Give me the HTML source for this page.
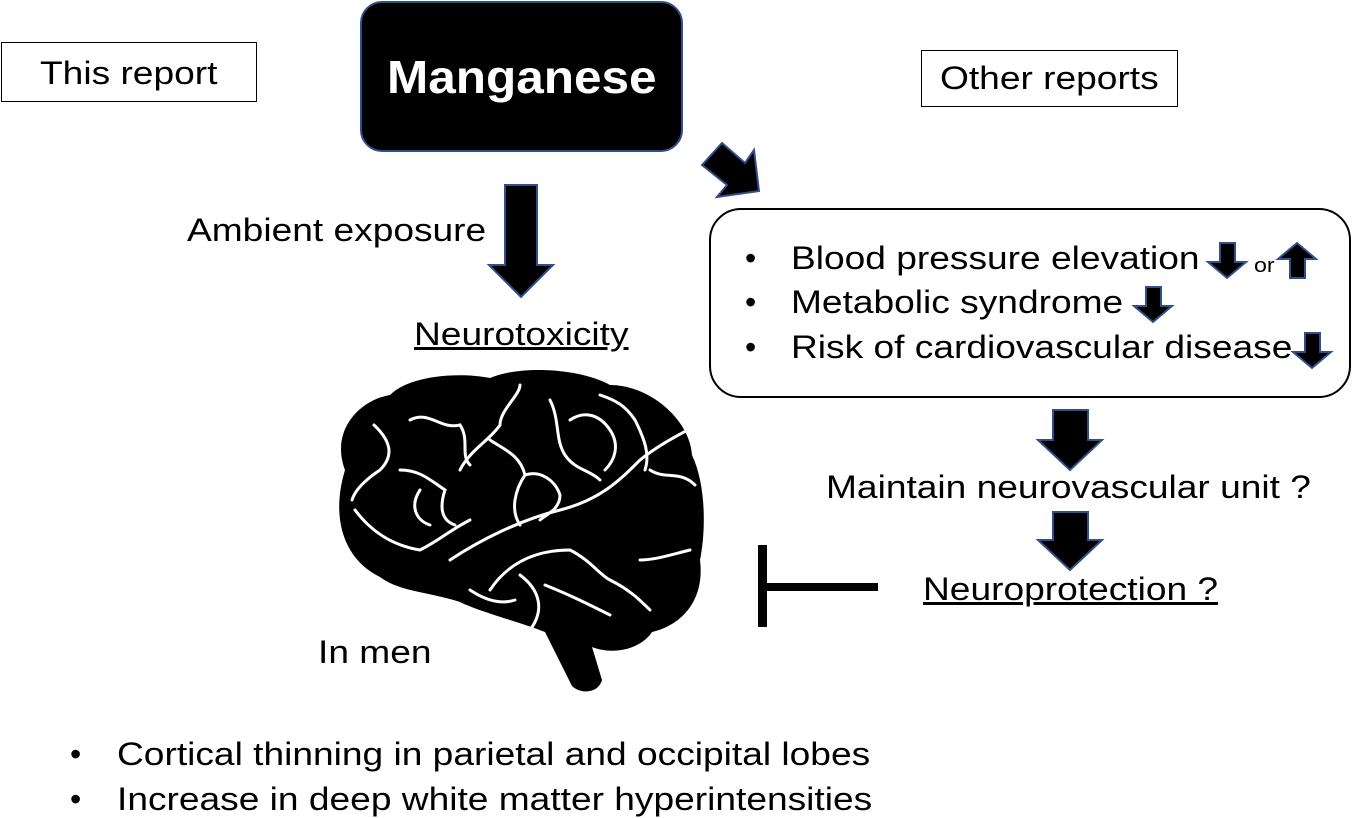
<!DOCTYPE html>
<html><head><meta charset="utf-8"><style>
html,body{margin:0;padding:0;background:#fff;}
body{width:1352px;height:818px;position:relative;overflow:hidden;font-family:"Liberation Sans",Arial,sans-serif;color:#000;}
.t{position:absolute;white-space:nowrap;font-size:32px;line-height:1;transform:scaleX(1.16);transform-origin:0 0;}
.box{position:absolute;box-sizing:border-box;}
</style></head><body>
<div class="box" style="left:1px;top:42px;width:256px;height:60px;border:1.5px solid #000;"></div>
<div class="t" style="left:40px;top:57px;">This report</div>
<div class="box" style="left:360px;top:1px;width:323px;height:151px;background:#000;border:2px solid #2f4f8f;border-radius:22px;"></div>
<div class="t" style="left:387px;top:54px;color:#fff;font-weight:bold;font-size:46px;transform:scaleX(1.076);">Manganese</div>
<div class="box" style="left:921px;top:50px;width:257px;height:57px;border:1.5px solid #000;"></div>
<div class="t" style="left:940px;top:62px;">Other reports</div>
<div class="box" style="left:709px;top:208px;width:642px;height:190px;border:2px solid #000;border-radius:32px;"></div>
<div class="t" style="left:745px;top:242px;transform:none;">•</div>
<div class="t" style="left:791px;top:242px;">Blood pressure elevation</div>
<div class="t" style="left:1254px;top:256px;font-size:20px;">or</div>
<div class="t" style="left:745px;top:286px;transform:none;">•</div>
<div class="t" style="left:791px;top:286px;">Metabolic syndrome</div>
<div class="t" style="left:745px;top:331px;transform:none;">•</div>
<div class="t" style="left:791px;top:331px;">Risk of cardiovascular disease</div>
<div class="t" style="left:187px;top:214px;">Ambient exposure</div>
<div class="t" style="left:414px;top:318px;text-decoration:underline;">Neurotoxicity</div>
<div class="t" style="left:826px;top:471px;">Maintain neurovascular unit ?</div>
<div class="t" style="left:923px;top:573px;text-decoration:underline;">Neuroprotection ?</div>
<div class="t" style="left:318px;top:636px;">In men</div>
<div class="t" style="left:70px;top:738px;transform:none;">•</div>
<div class="t" style="left:117px;top:738px;">Cortical thinning in parietal and occipital lobes</div>
<div class="t" style="left:70px;top:783px;transform:none;">•</div>
<div class="t" style="left:117px;top:783px;">Increase in deep white matter hyperintensities</div>
<svg width="1352" height="818" style="position:absolute;left:0;top:0;">
<g fill="#000" stroke="#2f4f8f" stroke-width="2">
<polygon points="505,185 537,185 537,265 553,265 521,297 489,265 505,265"/>
<polygon points="702,165 722,143 745,163 754,150 759,191 717,197 727,185"/>
<polygon points="1053,410 1088,410 1088,440 1102,440 1070,470 1038,440 1053,440"/>
<polygon points="1053,512 1088,512 1088,540 1102,540 1070,570 1038,540 1053,540"/>
<polygon points="1220,243 1235,243 1235,262 1246,262 1227,278 1208,262 1220,262"/>
<polygon points="1290,278 1305,278 1305,259 1316,259 1297,243 1278,259 1290,259"/>
<polygon points="1146,287 1161,287 1161,306 1172,306 1153,322 1134,306 1146,306"/>
<polygon points="1305,333 1320,333 1320,352 1331,352 1312,368 1293,352 1305,352"/>
</g>
<rect x="758" y="583" width="120" height="8" fill="#000"/>
<rect x="758" y="545" width="9" height="82" fill="#000"/>
<path d="M345,470 C330,430 360,400 390,395 C410,375 460,372 490,378 C520,365 580,368 610,385 C650,385 690,420 692,455 C706,485 706,530 700,560 C705,600 682,625 652,632 C640,650 612,655 592,647 L602,680 C598,694 580,694 572,686 L545,632 C520,622 480,612 460,602 C430,592 400,592 380,577 C345,560 330,520 345,470 Z" fill="#000"/>
<g fill="none" stroke="#fff" stroke-width="3" stroke-linecap="round">
<path d="M374,425 C390,440 395,455 380,470 C365,480 355,490 352,500"/>
<path d="M355,510 C370,530 390,545 420,550 C440,540 450,530 470,520"/>
<path d="M410,420 C430,410 440,430 460,425 C470,440 460,455 470,465"/>
<path d="M400,470 C420,470 430,480 445,490 C440,505 440,520 455,525"/>
<path d="M420,490 C410,505 415,520 430,525"/>
<path d="M460,470 C470,450 490,440 500,425 C500,410 520,395 520,385"/>
<path d="M490,440 C505,450 520,455 525,475 C515,490 510,510 520,525"/>
<path d="M525,475 C540,470 555,480 560,495 C560,510 545,515 540,520"/>
<path d="M450,560 C480,540 520,520 560,510 C600,500 620,480 640,460 C665,440 690,430 705,420"/>
<path d="M550,400 C560,420 555,440 565,455 C575,470 590,470 600,480"/>
<path d="M570,420 C585,410 600,415 610,430 C620,445 615,460 605,470"/>
<path d="M600,395 C615,400 625,405 635,420 C645,440 650,455 645,470"/>
<path d="M650,470 C665,480 680,470 695,485"/>
<path d="M490,590 C510,560 540,550 570,550 C590,560 600,575 610,580 C630,590 640,600 650,610"/>
<path d="M520,575 C540,590 545,610 530,630"/>
<path d="M545,585 C570,595 590,605 610,615"/>
<path d="M470,590 C485,600 500,605 515,600"/>
<path d="M640,560 C655,560 670,555 690,550"/>
</g>
</svg>
</body></html>
